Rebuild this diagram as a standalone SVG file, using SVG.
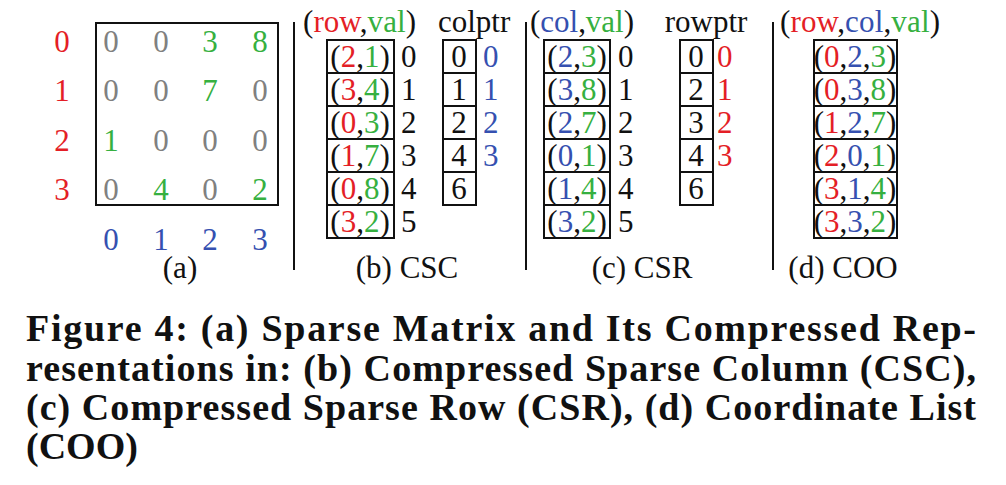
<svg xmlns="http://www.w3.org/2000/svg" width="1006" height="485" viewBox="0 0 1006 485">
<style>
text{font-family:"Liberation Serif","Times New Roman",serif;font-size:31px;fill:#111}
.r{fill:#e41e26}.g{fill:#36b040}.b{fill:#3550b0}.k{fill:#808080}
.m{text-anchor:middle}
rect,line{fill:none;stroke:#111;stroke-width:2}
.cap{font-weight:bold;font-size:38px}
</style>
<rect x="0" y="0" width="1006" height="485" style="fill:#fff;stroke:none"/>
<g id="matrix">
<rect x="96" y="23" width="182" height="182"/>
<text x="62" y="52" class="r m">0</text><text x="62" y="101" class="r m">1</text><text x="62" y="151" class="r m">2</text><text x="62" y="200" class="r m">3</text>
<text x="111" y="52" class="k m">0</text><text x="161" y="52" class="k m">0</text><text x="210" y="52" class="g m">3</text><text x="260" y="52" class="g m">8</text>
<text x="111" y="101" class="k m">0</text><text x="161" y="101" class="k m">0</text><text x="210" y="101" class="g m">7</text><text x="260" y="101" class="k m">0</text>
<text x="111" y="151" class="g m">1</text><text x="161" y="151" class="k m">0</text><text x="210" y="151" class="k m">0</text><text x="260" y="151" class="k m">0</text>
<text x="111" y="200" class="k m">0</text><text x="161" y="200" class="g m">4</text><text x="210" y="200" class="k m">0</text><text x="260" y="200" class="g m">2</text>
<text x="111" y="250" class="b m">0</text><text x="161" y="250" class="b m">1</text><text x="210" y="250" class="b m">2</text><text x="260" y="250" class="b m">3</text>
<text x="180" y="278" class="m">(a)</text>
</g>
<g id="dividers">
<line x1="294" y1="22" x2="294" y2="270"/><line x1="526" y1="22" x2="526" y2="270"/><line x1="773" y1="22" x2="773" y2="270"/>
</g>
<g id="csc">
<text x="303" y="32" textLength="113">(<tspan class="r">row</tspan>,<tspan class="g">val</tspan>)</text>
<text x="438" y="32">colptr</text>
<rect x="327" y="40" width="67" height="198"/>
<line x1="327" y1="73" x2="394" y2="73"/><line x1="327" y1="106" x2="394" y2="106"/><line x1="327" y1="139" x2="394" y2="139"/><line x1="327" y1="172" x2="394" y2="172"/><line x1="327" y1="205" x2="394" y2="205"/>
<g class="m">
<text x="360" y="67">(<tspan class="r">2</tspan>,<tspan class="g">1</tspan>)</text>
<text x="360" y="100">(<tspan class="r">3</tspan>,<tspan class="g">4</tspan>)</text>
<text x="360" y="133">(<tspan class="r">0</tspan>,<tspan class="g">3</tspan>)</text>
<text x="360" y="166">(<tspan class="r">1</tspan>,<tspan class="g">7</tspan>)</text>
<text x="360" y="199">(<tspan class="r">0</tspan>,<tspan class="g">8</tspan>)</text>
<text x="360" y="232">(<tspan class="r">3</tspan>,<tspan class="g">2</tspan>)</text>
</g>
<text x="401" y="67">0</text><text x="401" y="100">1</text><text x="401" y="133">2</text><text x="401" y="166">3</text><text x="401" y="199">4</text><text x="401" y="232">5</text>
<rect x="443" y="40" width="33" height="165"/>
<line x1="443" y1="73" x2="476" y2="73"/><line x1="443" y1="106" x2="476" y2="106"/><line x1="443" y1="139" x2="476" y2="139"/><line x1="443" y1="172" x2="476" y2="172"/>
<text x="459" y="67" class="m">0</text><text x="459" y="100" class="m">1</text><text x="459" y="133" class="m">2</text><text x="459" y="166" class="m">4</text><text x="459" y="199" class="m">6</text>
<text x="483" y="67" class="b">0</text><text x="483" y="100" class="b">1</text><text x="483" y="133" class="b">2</text><text x="483" y="166" class="b">3</text>
<text x="407" y="278" class="m">(b) CSC</text>
</g>
<g id="csr">
<text x="530" y="32" textLength="104">(<tspan class="b">col</tspan>,<tspan class="g">val</tspan>)</text>
<text x="706" y="32" class="m">rowptr</text>
<rect x="544" y="40" width="66" height="198"/>
<line x1="544" y1="73" x2="610" y2="73"/><line x1="544" y1="106" x2="610" y2="106"/><line x1="544" y1="139" x2="610" y2="139"/><line x1="544" y1="172" x2="610" y2="172"/><line x1="544" y1="205" x2="610" y2="205"/>
<g class="m">
<text x="577" y="67">(<tspan class="b">2</tspan>,<tspan class="g">3</tspan>)</text>
<text x="577" y="100">(<tspan class="b">3</tspan>,<tspan class="g">8</tspan>)</text>
<text x="577" y="133">(<tspan class="b">2</tspan>,<tspan class="g">7</tspan>)</text>
<text x="577" y="166">(<tspan class="b">0</tspan>,<tspan class="g">1</tspan>)</text>
<text x="577" y="199">(<tspan class="b">1</tspan>,<tspan class="g">4</tspan>)</text>
<text x="577" y="232">(<tspan class="b">3</tspan>,<tspan class="g">2</tspan>)</text>
</g>
<text x="618" y="67">0</text><text x="618" y="100">1</text><text x="618" y="133">2</text><text x="618" y="166">3</text><text x="618" y="199">4</text><text x="618" y="232">5</text>
<rect x="680" y="40" width="33" height="165"/>
<line x1="680" y1="73" x2="713" y2="73"/><line x1="680" y1="106" x2="713" y2="106"/><line x1="680" y1="139" x2="713" y2="139"/><line x1="680" y1="172" x2="713" y2="172"/>
<text x="696" y="67" class="m">0</text><text x="696" y="100" class="m">2</text><text x="696" y="133" class="m">3</text><text x="696" y="166" class="m">4</text><text x="696" y="199" class="m">6</text>
<text x="717" y="67" class="r">0</text><text x="717" y="100" class="r">1</text><text x="717" y="133" class="r">2</text><text x="717" y="166" class="r">3</text>
<text x="642" y="278" class="m">(c) CSR</text>
</g>
<g id="coo">
<text x="780" y="32" textLength="160">(<tspan class="r">row</tspan>,<tspan class="b">col</tspan>,<tspan class="g">val</tspan>)</text>
<rect x="814" y="40" width="83" height="198"/>
<line x1="814" y1="73" x2="897" y2="73"/><line x1="814" y1="106" x2="897" y2="106"/><line x1="814" y1="139" x2="897" y2="139"/><line x1="814" y1="172" x2="897" y2="172"/><line x1="814" y1="205" x2="897" y2="205"/>
<g class="m">
<text x="855" y="67">(<tspan class="r">0</tspan>,<tspan class="b">2</tspan>,<tspan class="g">3</tspan>)</text>
<text x="855" y="100">(<tspan class="r">0</tspan>,<tspan class="b">3</tspan>,<tspan class="g">8</tspan>)</text>
<text x="855" y="133">(<tspan class="r">1</tspan>,<tspan class="b">2</tspan>,<tspan class="g">7</tspan>)</text>
<text x="855" y="166">(<tspan class="r">2</tspan>,<tspan class="b">0</tspan>,<tspan class="g">1</tspan>)</text>
<text x="855" y="199">(<tspan class="r">3</tspan>,<tspan class="b">1</tspan>,<tspan class="g">4</tspan>)</text>
<text x="855" y="232">(<tspan class="r">3</tspan>,<tspan class="b">3</tspan>,<tspan class="g">2</tspan>)</text>
</g>
<text x="843" y="278" class="m">(d) COO</text>
</g>
<g id="caption">
<text class="cap" x="26" y="341" textLength="950" lengthAdjust="spacing">Figure 4: (a) Sparse Matrix and Its Compressed Rep-</text>
<text class="cap" x="26" y="381" textLength="950" lengthAdjust="spacing">resentations in: (b) Compressed Sparse Column (CSC),</text>
<text class="cap" x="26" y="420" textLength="950" lengthAdjust="spacing">(c) Compressed Sparse Row (CSR), (d) Coordinate List</text>
<text class="cap" x="26" y="459">(COO)</text>
</g>
</svg>
